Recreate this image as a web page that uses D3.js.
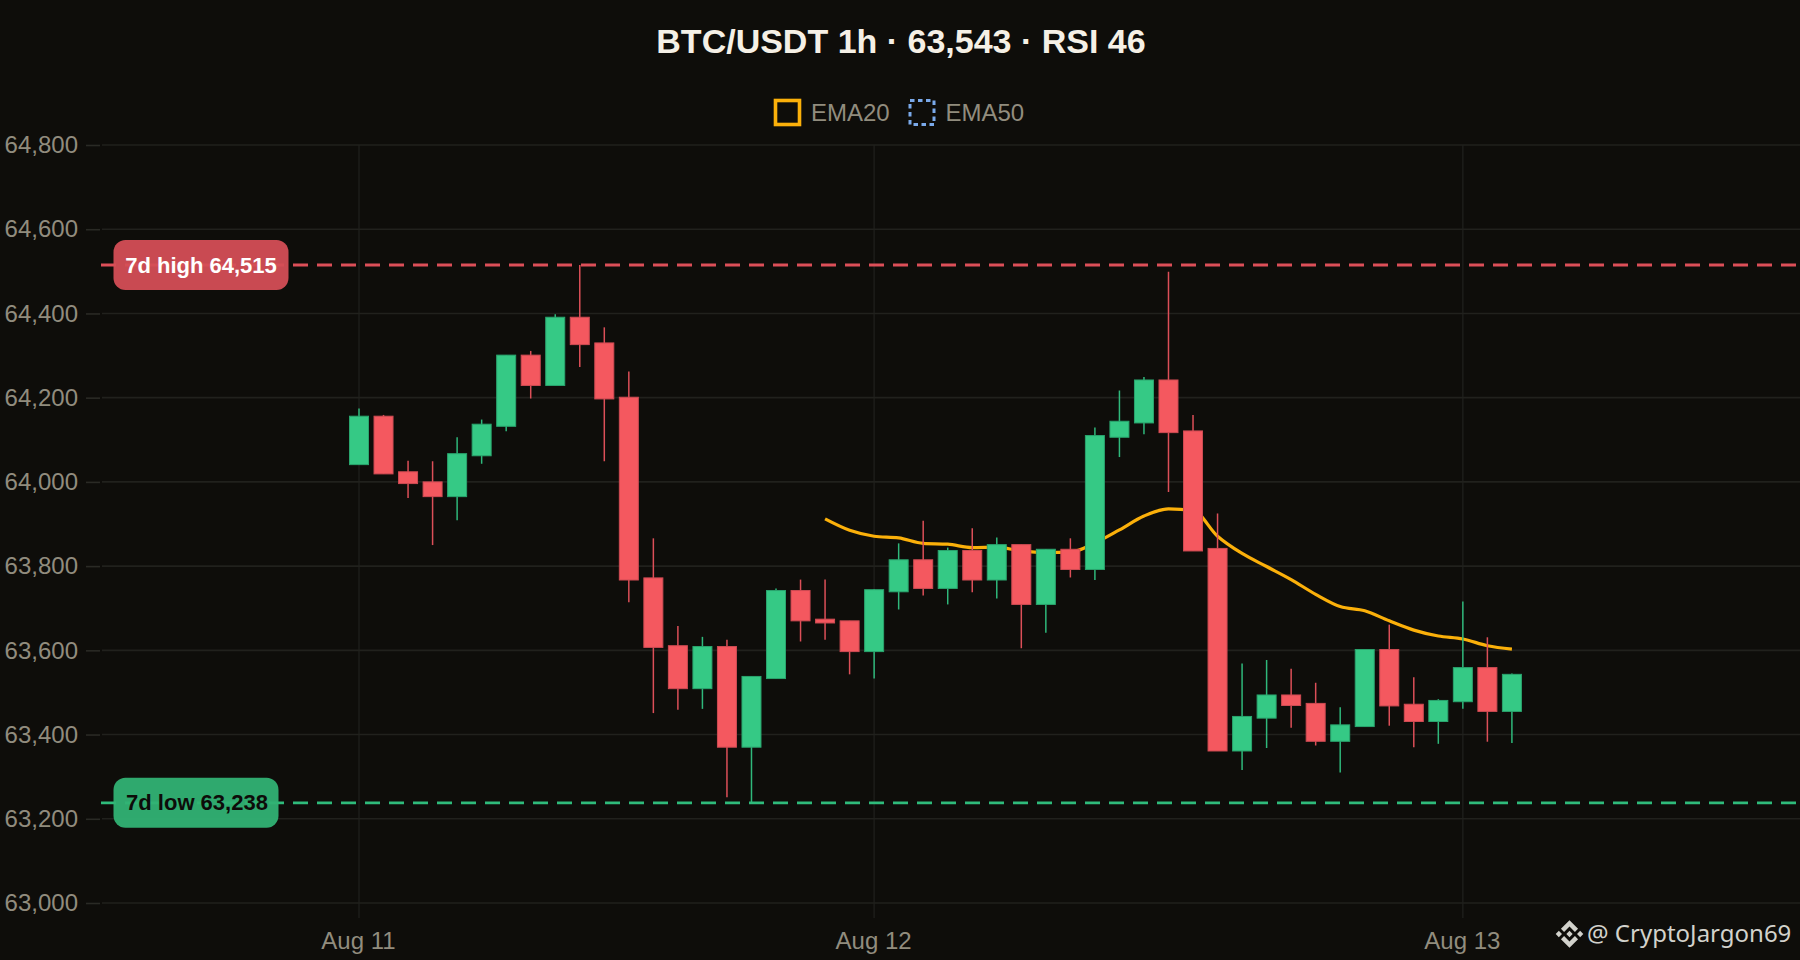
<!DOCTYPE html>
<html>
<head>
<meta charset="utf-8">
<script src="https://cdn.jsdelivr.net/npm/d3@7"></script>
<style>
html,body{margin:0;padding:0;background:#0e0d0a;}
svg{display:block;}
text{font-family:"Liberation Sans",Arial,sans-serif;}
</style>
</head>
<body>
<svg id="chart" width="1800" height="960"></svg>
<script>
const titleText = "BTC/USDT 1h · 63,543 · RSI 46";
const dateLabels = ["Aug 11","Aug 12","Aug 13"];
const dateIndex = [0,21,45];
const priceTicks = [63000,63200,63400,63600,63800,64000,64200,64400,64600,64800];
const opens  = [64041,64156,64024,64000,63965,64062,64132,64301,64229,64391,64330,64201,63772,63611,63509,63609,63370,63533,63742,63674,63670,63597,63739,63815,63747,63837,63767,63851,63709,63840,63792,64106,64140,64242,64121,63842,63361,63439,63494,63474,63384,63419,63602,63472,63431,63478,63559,63455];
const closes = [64156,64019,63996,63965,64067,64137,64301,64229,64391,64326,64197,63767,63607,63509,63609,63370,63538,63742,63670,63665,63597,63744,63815,63747,63837,63767,63851,63709,63840,63792,64110,64144,64242,64117,63836,63361,63443,63494,63469,63384,63423,63602,63468,63431,63481,63559,63455,63543];
const highs  = [64174,64159,64050,64049,64106,64148,64301,64311,64398,64515,64367,64262,63866,63658,63632,63625,63538,63747,63768,63768,63670,63745,63854,63908,63844,63890,63868,63851,63840,63866,64129,64217,64249,64499,64159,63925,63569,63577,63556,63523,63465,63602,63661,63536,63484,63716,63631,63545];
const lows   = [64041,64019,63962,63850,63909,64043,64120,64198,64229,64273,64049,63714,63451,63459,63461,63251,63238,63533,63621,63625,63543,63533,63697,63730,63709,63738,63723,63605,63642,63773,63767,64059,64113,63976,63836,63361,63316,63368,63416,63374,63310,63419,63421,63370,63378,63461,63383,63380];
const ema20Start = 19;
const ema20 = [63912,63885,63871,63867,63854,63852,63844,63845,63836,63832,63833,63855,63886,63919,63936,63932,63871,63830,63799,63768,63733,63704,63694,63670,63648,63634,63627,63611,63603];
const high7d = 64515;
const low7d = 63238;
const highLabel = "7d high 64,515";
const lowLabel = "7d low 63,238";
const legendNames = ["EMA20","EMA50"];
const watermark = "@ CryptoJargon69";

const svg = d3.select("#chart");
const bg="#0e0d0a", up="#35c985", down="#f4585f", upEdge="#2aa56e", downEdge="#cf4b53";
const textGrey="#918c7e";
const x = d3.scaleLinear().domain([0,47]).range([359,359+47*24.53]);
const y = d3.scaleLinear().domain([63000,64800]).range([903,145]);

svg.append("rect").attr("width",1800).attr("height",960).attr("fill",bg);

// vertical grid
svg.append("g").selectAll("line").data(dateIndex).join("line")
  .attr("x1",d=>x(d)).attr("x2",d=>x(d)).attr("y1",145).attr("y2",918)
  .attr("stroke","#1d1d1a").attr("stroke-width",1.5);

// horizontal grid
svg.append("g").selectAll("line").data(priceTicks).join("line")
  .attr("x1",102).attr("x2",1800).attr("y1",d=>y(d)).attr("y2",d=>y(d))
  .attr("stroke","#21211d").attr("stroke-width",1.6);

// y axis
const yAxis = d3.axisLeft(y).tickValues(priceTicks).tickSize(14).tickPadding(8).tickFormat(d3.format(","));
const gy = svg.append("g").attr("transform","translate(100,0)").call(yAxis);
gy.select(".domain").remove();
gy.selectAll("line").attr("stroke","#2a2a25").attr("stroke-width",1.6);
gy.selectAll("text").attr("fill",textGrey).attr("font-size",24).attr("font-family","Liberation Sans");

// x axis
const xAxis = d3.axisBottom(x).tickValues(dateIndex).tickSize(0).tickPadding(0).tickFormat((d,i)=>dateLabels[i]);
const gx = svg.append("g").attr("transform","translate(-1,931.5)").call(xAxis);
gx.select(".domain").remove();
gx.selectAll("text").attr("fill",textGrey).attr("font-size",24).attr("font-family","Liberation Sans");

// reference lines
const refs = [{v:high7d,c:"#dc4f58"},{v:low7d,c:"#2fbb7b"}];
svg.append("g").selectAll("line").data(refs).join("line")
  .attr("x1",101).attr("x2",1800).attr("y1",d=>y(d.v)).attr("y2",d=>y(d.v))
  .attr("stroke",d=>d.c).attr("stroke-width",2.8).attr("stroke-dasharray","15 9");

// EMA line (beneath the candles)
const emaLine = d3.line().x((d,i)=>x(i+ema20Start)).y(d=>y(d)).curve(d3.curveMonotoneX);
svg.append("path").datum(ema20).attr("d",emaLine).attr("fill","none")
  .attr("stroke","#fbb00a").attr("stroke-width",3.2).attr("stroke-linejoin","round");

// candles
const idx = d3.range(opens.length);
const isUp = i=>closes[i]>=opens[i];
svg.append("g").selectAll("line").data(idx).join("line")
  .attr("x1",i=>x(i)).attr("x2",i=>x(i)).attr("y1",i=>y(highs[i])).attr("y2",i=>y(lows[i]))
  .attr("stroke",i=>isUp(i)?"#2fb87b":"#dc4f58").attr("stroke-width",1.5);
svg.append("g").selectAll("rect").data(idx).join("rect")
  .attr("x",i=>x(i)-9.5).attr("width",19)
  .attr("y",i=>y(Math.max(opens[i],closes[i])))
  .attr("height",i=>Math.max(1,Math.abs(y(opens[i])-y(closes[i]))))
  .attr("fill",i=>isUp(i)?up:down)
  .attr("stroke",i=>isUp(i)?upEdge:downEdge).attr("stroke-width",1);

// badges
const badges=[{t:highLabel,v:high7d,w:175,f:"#d44e56",c:"#ffffff",dx:0},{t:lowLabel,v:low7d,w:165,f:"#32b274",c:"#0d0c09",dx:1}];
const bg2=svg.append("g");
badges.forEach(b=>{
  bg2.append("rect").attr("x",113.5).attr("y",y(b.v)-25).attr("width",b.w).attr("height",50).attr("rx",12)
    .attr("fill",b.f).attr("fill-opacity",0.95);
  bg2.append("text").attr("x",113.5+b.w/2+b.dx).attr("y",y(b.v)+7.5).attr("text-anchor","middle")
    .attr("fill",b.c).attr("font-size",22).attr("font-weight","700").text(b.t);
});

// title
svg.append("text").attr("x",901).attr("y",52.5).attr("text-anchor","middle").attr("fill","#f5f0e6")
  .attr("font-size",34).attr("font-weight","700").text(titleText);

// legend
svg.append("rect").attr("x",775.5).attr("y",100.5).attr("width",24).attr("height",24)
  .attr("fill","none").attr("stroke","#fbb00a").attr("stroke-width",3.6);
svg.append("text").attr("x",811).attr("y",120.5).attr("fill",textGrey).attr("font-size",24).text(legendNames[0]);
svg.append("rect").attr("x",910).attr("y",100.5).attr("width",24).attr("height",24)
  .attr("fill","none").attr("stroke","#7aa9ea").attr("stroke-width",3).attr("stroke-dasharray","4.5 3.5");
svg.append("text").attr("x",945.5).attr("y",120.5).attr("fill",textGrey).attr("font-size",24).text(legendNames[1]);

// watermark
const wmc="#d2d2cc";
const logo=svg.append("g").attr("transform","translate(1569.5,934) scale(0.22)").attr("fill",wmc);
["M-24.6,-9.6 L0,-34.1 L24.6,-9.6 L38.9,-23.9 L0,-62.76 L-38.9,-23.9 Z",
 "M-24.6,9.6 L0,34.1 L24.6,9.6 L38.9,23.9 L0,62.76 L-38.9,23.9 Z",
 "M-14.3,0 L0,-14.3 L14.3,0 L0,14.3 Z",
 "M-62.76,0 L-48.45,-14.3 L-34.15,0 L-48.45,14.3 Z",
 "M62.76,0 L48.45,-14.3 L34.15,0 L48.45,14.3 Z"].forEach(d=>logo.append("path").attr("d",d));
svg.append("text").attr("x",1587).attr("y",942).attr("fill",wmc)
  .style("font-family","'Noto Sans'").attr("font-size",24).text(watermark);
</script>
</body>
</html>
